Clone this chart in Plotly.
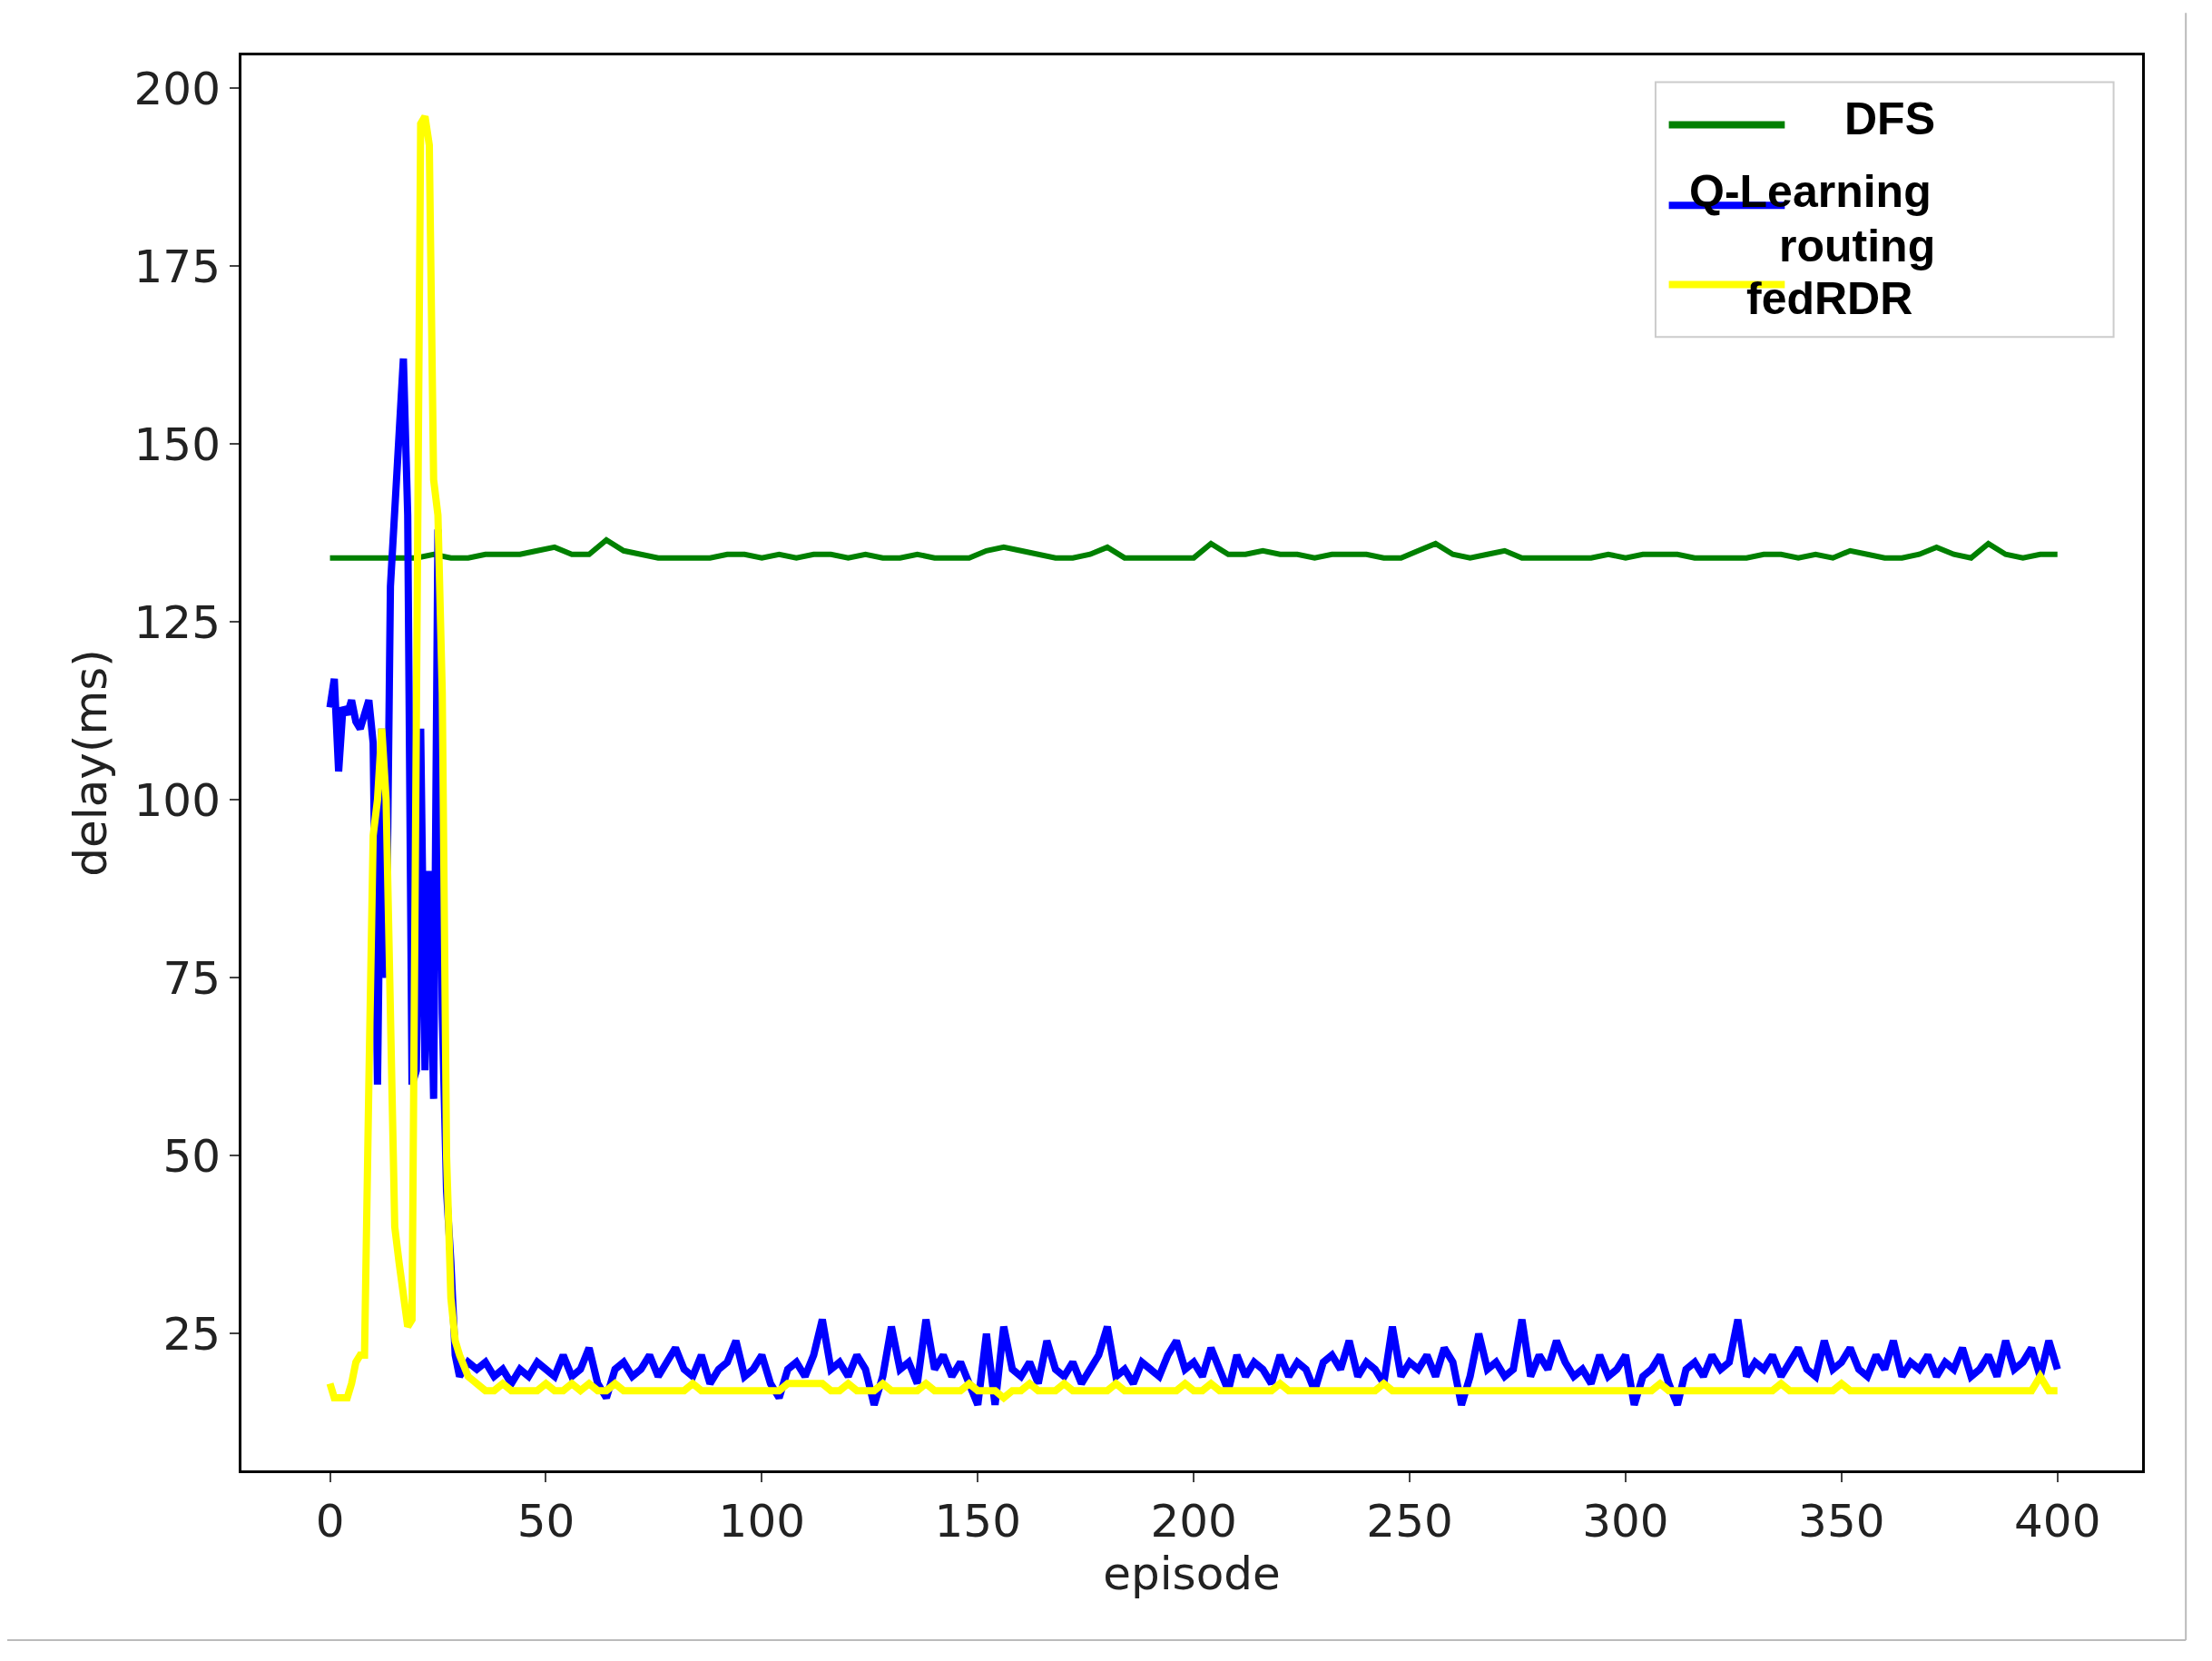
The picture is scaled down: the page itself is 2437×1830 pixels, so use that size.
import plotly.graph_objects as go

# early episodes 0..29, one value per episode
early_ep = list(range(0, 30))
q_early = [113, 117, 104, 113, 112, 114, 111, 110, 112, 114, 108, 60, 110, 75, 130,
           140, 150, 162, 140, 60, 62, 110, 62, 90, 58, 138, 70, 45, 35, 22]
fed_early = [18, 16, 16, 16, 16, 18, 21, 22, 22, 60, 95, 100, 110, 100, 70,
             40, 35, 30, 26, 27, 110, 195, 196, 192, 145, 140, 115, 50, 30, 24]

# later episodes 30..400, every 2 episodes
late_ep = list(range(30, 401, 2))
q_late = [19, 21, 20, 21, 19, 20, 18, 20, 19, 21, 20, 19, 22, 19, 20, 23, 18, 16, 20, 21,
          19, 20, 22, 19, 21, 23, 20, 19, 22, 18, 20, 21, 24, 19, 20, 22, 18, 16, 20, 21,
          19, 22, 27, 20, 21, 19, 22, 20, 15, 19, 26, 20, 21, 18, 27, 20, 22, 19, 21, 18,
          15, 25, 15, 26, 20, 19, 21, 18, 24, 20, 19, 21, 18, 20, 22, 26, 19, 20, 18, 21,
          20, 19, 22, 24, 20, 21, 19, 23, 20, 17, 22, 19, 21, 20, 18, 22, 19, 21, 20, 17,
          21, 22, 20, 24, 19, 21, 20, 18, 26, 19, 21, 20, 22, 19, 23, 21, 15, 19, 25, 20,
          21, 19, 20, 27, 19, 22, 20, 24, 21, 19, 20, 18, 22, 19, 20, 22, 15, 19, 20, 22,
          18, 15, 20, 21, 19, 22, 20, 21, 27, 19, 21, 20, 22, 19, 21, 23, 20, 19, 24, 20,
          21, 23, 20, 19, 22, 20, 24, 19, 21, 20, 22, 19, 21, 20, 23, 19, 20, 22, 19, 24,
          20, 21, 23, 19, 24, 20]
fed_late = [22, 19, 18, 17, 17, 18, 17, 17, 17, 17, 18, 17, 17, 18, 17, 18, 17, 17, 18, 17,
            17, 17, 17, 17, 17, 17, 17, 18, 17, 17, 17, 17, 17, 17, 17, 17, 17, 17, 18, 18,
            18, 18, 18, 17, 17, 18, 17, 17, 17, 18, 17, 17, 17, 17, 18, 17, 17, 17, 17, 18,
            17, 17, 17, 16, 17, 17, 18, 17, 17, 17, 18, 17, 17, 17, 17, 17, 18, 17, 17, 17,
            17, 17, 17, 17, 18, 17, 17, 18, 17, 17, 17, 17, 17, 17, 17, 18, 17, 17, 17, 17,
            17, 17, 17, 17, 17, 17, 17, 18, 17, 17, 17, 17, 17, 17, 17, 17, 17, 17, 17, 17,
            17, 17, 17, 17, 17, 17, 17, 17, 17, 17, 17, 17, 17, 17, 17, 17, 17, 17, 17, 18,
            17, 17, 17, 17, 17, 17, 17, 17, 17, 17, 17, 17, 17, 18, 17, 17, 17, 17, 17, 17,
            18, 17, 17, 17, 17, 17, 17, 17, 17, 17, 17, 17, 17, 17, 17, 17, 17, 17, 17, 17,
            17, 17, 17, 19, 17, 17]

# DFS, every 4 episodes 0..400
dfs_ep = list(range(0, 401, 4))
dfs = [134, 134, 134, 134, 134, 134, 134.5, 134, 134, 134.5, 134.5, 134.5, 135, 135.5, 134.5,
       134.5, 136.5, 135, 134.5, 134, 134, 134, 134, 134.5, 134.5, 134, 134.5, 134, 134.5, 134.5,
       134, 134.5, 134, 134, 134.5, 134, 134, 134, 135, 135.5, 135, 134.5, 134, 134, 134.5, 135.5,
       134, 134, 134, 134, 134, 136, 134.5, 134.5, 135, 134.5, 134.5, 134, 134.5, 134.5, 134.5,
       134, 134, 135, 136, 134.5, 134, 134.5, 135, 134, 134, 134, 134, 134, 134.5, 134, 134.5,
       134.5, 134.5, 134, 134, 134, 134, 134.5, 134.5, 134, 134.5, 134, 135, 134.5, 134, 134,
       134.5, 135.5, 134.5, 134, 136, 134.5, 134, 134.5, 134.5]

q_ep = early_ep + late_ep
q_vals = q_early + q_late
fed_vals = fed_early + fed_late

fig = go.Figure()
fig.add_trace(go.Scatter(x=dfs_ep, y=dfs, mode="lines", line=dict(color="green", width=6), name="DFS"))
fig.add_trace(go.Scatter(x=q_ep, y=q_vals, mode="lines", line=dict(color="blue", width=8), name="Q-Learning routing"))
fig.add_trace(go.Scatter(x=q_ep, y=fed_vals, mode="lines", line=dict(color="yellow", width=8), name="fedRDR"))

axis_font = dict(family="DejaVu Sans", size=50, color="#222")
fig.update_layout(
    width=2437, height=1830,
    margin=dict(l=258, r=85, t=53, b=218),
    paper_bgcolor="white", plot_bgcolor="white",
    showlegend=False,
    font=axis_font,
)
fig.update_xaxes(range=[-20.5, 419.6], tickvals=[0, 50, 100, 150, 200, 250, 300, 350, 400],
                 showgrid=False, zeroline=False, showline=True, linecolor="black", linewidth=3,
                 mirror=True, ticks="outside", ticklen=10, tickwidth=2,
                 title=dict(text="episode", font=axis_font, standoff=10))
fig.update_yaxes(range=[5.8, 204.6], tickvals=[25, 50, 75, 100, 125, 150, 175, 200],
                 showgrid=False, zeroline=False, showline=True, linecolor="black", linewidth=3,
                 mirror=True, ticks="outside", ticklen=10, tickwidth=2,
                 title=dict(text="delay(ms)", font=axis_font, standoff=15))

# manual legend box
fig.add_shape(type="rect", xref="paper", yref="paper", x0=0.744, x1=0.985, y0=0.801, y1=0.981,
              line=dict(color="#ccc", width=2), fillcolor="rgba(255,255,255,0.85)")
for color, ly in [("green", 0.951), ("blue", 0.894), ("yellow", 0.838)]:
    fig.add_shape(type="line", xref="paper", yref="paper", x0=0.751, x1=0.812, y0=ly, y1=ly,
                  line=dict(color=color, width=8))
for text, tx, ty in [("DFS", 0.892, 0.955), ("Q-Learning", 0.890, 0.904),
                     ("routing", 0.892, 0.865), ("fedRDR", 0.880, 0.828)]:
    fig.add_annotation(xref="paper", yref="paper", x=tx, y=ty, yanchor="middle",
                       text="<b>%s</b>" % text, showarrow=False,
                       font=dict(family="Liberation Sans", size=50, color="black"))

# outer light frame
fig.add_shape(type="line", xref="paper", yref="paper", x0=-0.13, x1=1.023, y0=-0.12, y1=-0.12,
              line=dict(color="#bbb", width=2))
fig.add_shape(type="line", xref="paper", yref="paper", x0=1.023, x1=1.023, y0=-0.12, y1=1.03,
              line=dict(color="#bbb", width=2))

fig.write_html("out.html")
